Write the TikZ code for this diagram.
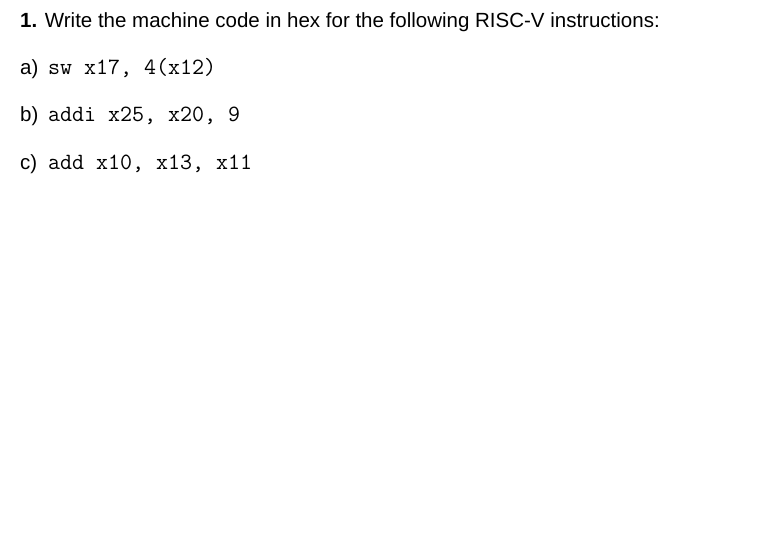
\documentclass[tikz,border=0pt]{standalone}
\usepackage{fontspec}
\setmainfont{Liberation Sans}
\begin{document}
\begin{tikzpicture}[x=1pt,y=-1pt,
  lbl/.style={anchor=base west,inner sep=0,font=\fontsize{20.5}{22}\selectfont},
  code/.style={anchor=base west,inner sep=0,font=\ttfamily\fontsize{23.3}{25}\selectfont}]
\useasboundingbox (0,0) rectangle (778,556);
\node[lbl] (t) at (20,28) {\textbf{1.} Write the machine code in hex for the following RISC-V instructions:};
\node[lbl] (a) at (20,75) {a)};
\node[code] (ac) at (48,75) {sw x17, 4(x12)};
\node[lbl] (b) at (20,122) {b)};
\node[code] (bc) at (48,122) {addi x25, x20, 9};
\node[lbl] (c) at (20,169) {c)};
\node[code] (cc) at (48,169) {add x10, x13, x11};
\end{tikzpicture}
\end{document}
